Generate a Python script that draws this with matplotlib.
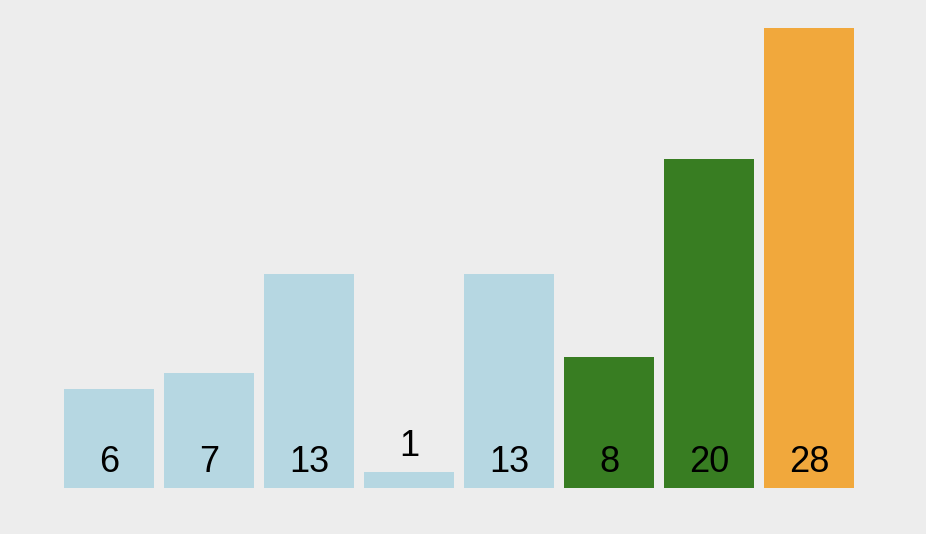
import matplotlib
matplotlib.use("Agg")
import matplotlib.pyplot as plt
from matplotlib.transforms import offset_copy

values = [6, 7, 13, 1, 13, 8, 20, 28]
colors = ["#b6d7e2", "#b6d7e2", "#b6d7e2", "#b6d7e2", "#b6d7e2", "#387d22", "#387d22", "#f1a83c"]
labels = [str(v) for v in values]

W, H = 926, 534
fig = plt.figure(figsize=(W / 100, H / 100), dpi=100, facecolor="#ededed")
ax = fig.add_axes([64 / W, 46 / H, (854 - 64) / W, (488 - 28) / H])
ax.set_facecolor("#ededed")
x = list(range(len(values)))
ax.bar(x, values, width=0.9, color=colors, linewidth=0)
ax.set_xlim(-0.45, len(values) - 1 + 0.45)
ax.set_ylim(0, max(values))
ax.axis("off")

px_per_unit = (488 - 28) / max(values)
for xi, v, lab in zip(x, values, labels):
    if v * px_per_unit < 40:
        tr = offset_copy(ax.transData, fig=fig, x=0, y=16 / 100 * 72, units="points")
        ax.text(xi, v, lab, transform=tr, ha="center", va="baseline",
                fontsize=26, family="Liberation Sans", color="black")
    else:
        tr = offset_copy(ax.transData, fig=fig, x=0, y=16 / 100 * 72, units="points")
        ax.text(xi, 0, lab, transform=tr, ha="center", va="baseline",
                fontsize=26, family="Liberation Sans", color="black")

fig.savefig("out.png", dpi=100, facecolor="#ededed")
